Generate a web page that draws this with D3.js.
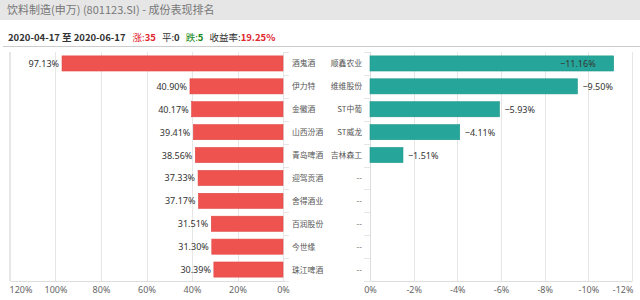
<!DOCTYPE html>
<html lang="zh">
<head>
<meta charset="utf-8">
<title>成份表现排名</title>
<style>
  body { margin:0; background:#fff; font-family:"Noto Sans CJK SC","Noto Sans",sans-serif; }
  svg { display:block; }
</style>
<script src="https://cdn.jsdelivr.net/npm/d3@7"></script>
</head>
<body>
<script>
// data
var upNames = ["酒鬼酒","伊力特","金徽酒","山西汾酒","青岛啤酒","迎驾贡酒","舍得酒业","百润股份","今世缘","珠江啤酒"];
var upValues = [97.13, 40.90, 40.17, 39.41, 38.56, 37.33, 37.17, 31.51, 31.30, 30.39];
var downNames = ["顺鑫农业","维维股份","ST中葡","ST威龙","吉林森工","--","--","--","--","--"];
var downValues = [-11.16, -9.50, -5.93, -4.11, -1.51, null, null, null, null, null];
var upTicks = [120, 100, 80, 60, 40, 20, 0];
var downTicks = [0, -2, -4, -6, -8, -10, -12];

var title = "饮料制造(申万) (801123.SI) - 成份表现排名";
var period = "2020-04-17 至 2020-06-17";
var upCount = 35, flatCount = 0, downCount = 5, yieldPct = "19.25%";

var W = 640, H = 300;
var red = "#ef5350", teal = "#26a69a", grid = "#e6e6e6", txt = "#333";
var numFont = "'Noto Sans','DejaVu Sans',sans-serif";

var svg = d3.select("body").append("svg").attr("width", W).attr("height", H);

// header bar
svg.append("rect").attr("x",0).attr("y",0).attr("width",W).attr("height",20).attr("fill","#e6e6e6");
svg.append("text").attr("x",7).attr("y",14).attr("font-size",11).attr("fill","#777").text(title);

var info = svg.append("text").attr("x",8).attr("y",41).attr("font-size",9.5).attr("fill",txt);
info.append("tspan").attr("font-weight","bold").text(period);
info.append("tspan").attr("dx",7).attr("fill","#e0262c").text("涨:");
info.append("tspan").attr("fill","#e0262c").attr("font-weight","bold").text(upCount);
info.append("tspan").attr("dx",6).text("平:");
info.append("tspan").attr("font-weight","bold").text(flatCount);
info.append("tspan").attr("dx",6).attr("fill","#1a8a1a").text("跌:");
info.append("tspan").attr("fill","#1a8a1a").attr("font-weight","bold").text(downCount);
info.append("tspan").attr("dx",6).text("收益率:");
info.append("tspan").attr("fill","#e0262c").attr("font-weight","bold").text(yieldPct);
svg.append("line").attr("x1",3).attr("x2",W).attr("y1",46.5).attr("y2",46.5).attr("stroke","#ccc");

// scales
var y = d3.scaleBand().domain(d3.range(upNames.length)).range([52, 281]).paddingInner(0.34).paddingOuter(0.17);
var xL = d3.scaleLinear().domain([0, 120]).range([283, 10]);
var xR = d3.scaleLinear().domain([0, -12]).range([370, 632]);

function drawGrid(x, ticks) {
  svg.append("g").selectAll("line").data(ticks).join("line")
    .attr("x1", d => Math.round(x(d)) + 0.5).attr("x2", d => Math.round(x(d)) + 0.5)
    .attr("y1", 52).attr("y2", 281).attr("stroke", grid);
  var ax = svg.append("g").attr("transform", "translate(0,281)")
    .call(d3.axisBottom(x).tickValues(ticks).tickSize(0).tickPadding(6).tickFormat(d => d + "%"));
  ax.select(".domain").attr("stroke", "#ddd");
  ax.selectAll("text").attr("font-size", 9).attr("fill", "#666").attr("font-family", numFont);
  return ax;
}
var axL = drawGrid(xL, upTicks);
var axR = drawGrid(xR, downTicks);
// keep edge labels inside the picture
axL.selectAll(".tick text").filter(d => d === 120).attr("text-anchor", "start").attr("dx", -1);
axR.selectAll(".tick text").filter(d => d === -12).attr("text-anchor", "end").attr("dx", 1);

// category tick marks between rows
var edges = d3.range(upNames.length + 1).map(i => i === upNames.length ? 281 : y(i) - y.step() * y.paddingInner() / 2);
svg.append("g").selectAll("line").data(edges).join("line")
  .attr("x1", 283).attr("x2", 289).attr("y1", d => Math.round(d) + 0.5).attr("y2", d => Math.round(d) + 0.5).attr("stroke", grid);
svg.append("g").selectAll("line").data(edges).join("line")
  .attr("x1", 364).attr("x2", 370).attr("y1", d => Math.round(d) + 0.5).attr("y2", d => Math.round(d) + 0.5).attr("stroke", grid);
svg.append("line").attr("x1", 370.5).attr("x2", 370.5).attr("y1", 52).attr("y2", 281).attr("stroke", "#ddd");

// left bars (gainers)
svg.append("g").selectAll("rect").data(upValues).join("rect")
  .attr("x", d => xL(d)).attr("y", (d, i) => y(i))
  .attr("width", d => xL(0) - xL(d)).attr("height", y.bandwidth())
  .attr("fill", red).attr("stroke", "#e04845").attr("stroke-width", 0.6);
svg.append("g").selectAll("text").data(upValues).join("text")
  .attr("x", d => xL(d) - 3).attr("y", (d, i) => y(i) + y.bandwidth() / 2 + 3.5)
  .attr("text-anchor", "end").attr("font-size", 9).attr("fill", txt)
  .attr("font-family", numFont)
  .text(d => d.toFixed(2) + "%");
svg.append("g").selectAll("text").data(upNames).join("text")
  .attr("x", 292).attr("y", (d, i) => y(i) + y.bandwidth() / 2 + 3)
  .attr("font-size", 7.8).attr("fill", "#555").text(d => d);

// right bars (losers)
var downData = downValues.map((v, i) => ({ v: v, i: i })).filter(d => d.v !== null);
svg.append("g").selectAll("rect").data(downData).join("rect")
  .attr("x", xR(0)).attr("y", d => y(d.i))
  .attr("width", d => xR(d.v) - xR(0)).attr("height", y.bandwidth())
  .attr("fill", teal).attr("stroke", "#1f978b").attr("stroke-width", 0.6);
svg.append("g").selectAll("text").data(downData).join("text")
  .attr("x", d => xR(d.v) < 600 ? xR(d.v) + 5 : xR(d.v) - 18)
  .attr("text-anchor", d => xR(d.v) < 600 ? "start" : "end")
  .attr("y", d => y(d.i) + y.bandwidth() / 2 + 3.5)
  .attr("font-size", 9).attr("fill", txt)
  .attr("font-family", numFont)
  .text(d => "\u2212" + Math.abs(d.v).toFixed(2) + "%");
svg.append("g").selectAll("text").data(downNames).join("text")
  .attr("x", 362).attr("y", (d, i) => y(i) + y.bandwidth() / 2 + 3)
  .attr("text-anchor", "end").attr("font-size", 7.8).attr("fill", "#555").text(d => d);

// left border of plot area
svg.append("line").attr("x1", 9.5).attr("x2", 9.5).attr("y1", 52).attr("y2", 281).attr("stroke", grid);
</script>
</body>
</html>
